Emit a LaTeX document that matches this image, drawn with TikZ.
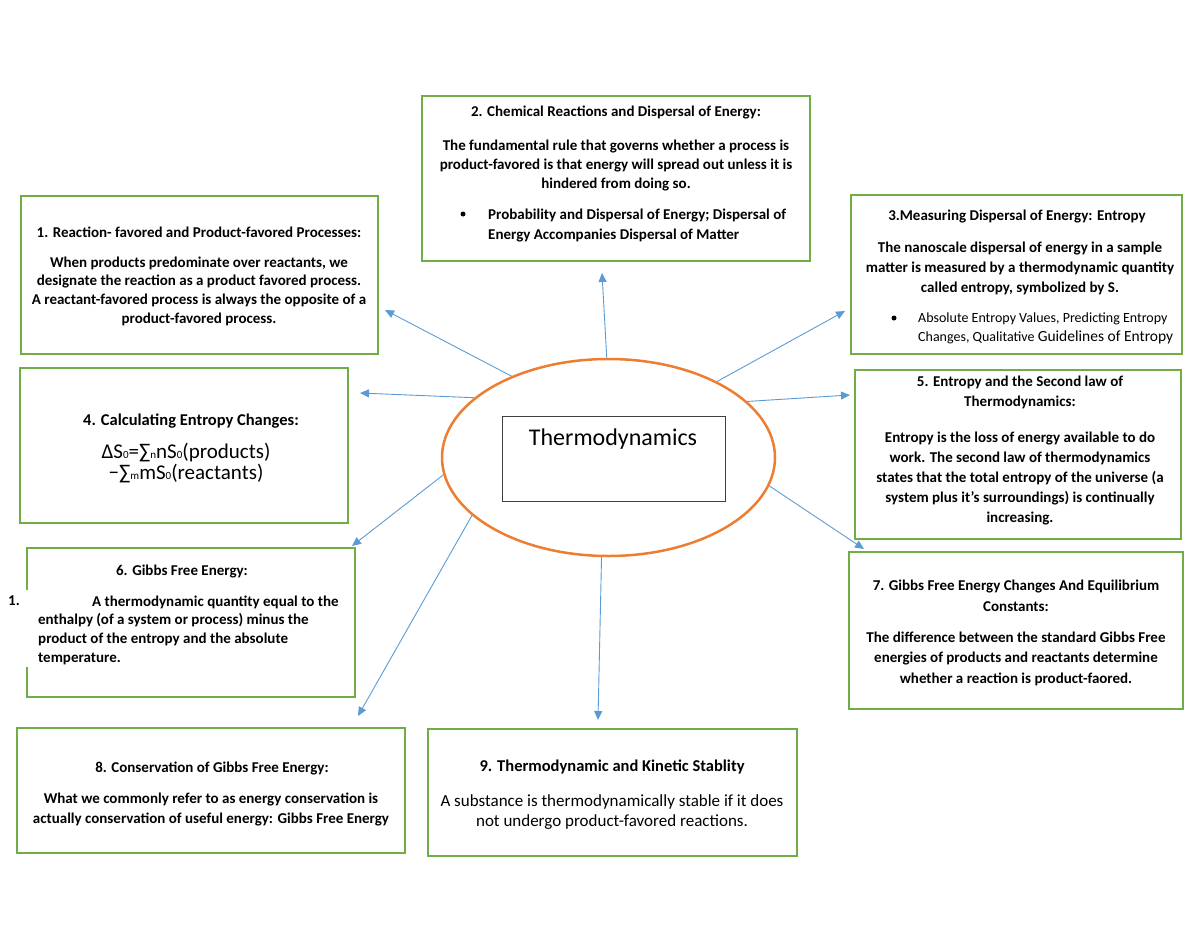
\documentclass[tikz,border=0pt]{standalone}
\usepackage{fontspec}
\setmainfont{Carlito}
\usetikzlibrary{shapes.geometric,arrows.meta}
\definecolor{boxgreen}{HTML}{70AD47}
\definecolor{ellorange}{HTML}{ED7D31}
\definecolor{arrblue}{HTML}{5B9BD5}
\newcommand\myfs[2]{\fontsize{#1}{#2}\selectfont}
\newcommand\smallidx[1]{{\fontsize{11}{11}\selectfont #1}}
\begin{document}
\begin{tikzpicture}[x=1pt,y=-1pt,
  box/.style={draw=boxgreen, line width=1.8pt, inner sep=0},
  tb/.style={inner sep=0, align=center, anchor=north},
  tl/.style={inner sep=0, align=left, anchor=north west},
  link/.style={draw=arrblue, line width=0.9pt, -{Triangle[length=9pt,width=8pt]}},
  dot/.style={circle, fill=black, inner sep=0, minimum size=5pt}]
\useasboundingbox (0,0) rectangle (1200,927);
% boxes
\node[box, minimum width=388pt, minimum height=165pt] (b2) at (616,178.5) {};
\node[box, minimum width=357pt, minimum height=158pt] (b1) at (199.5,275) {};
\node[box, minimum width=331pt, minimum height=159pt] (b3) at (1016.5,274.5) {};
\node[box, minimum width=328pt, minimum height=155pt] (b4) at (184,445.5) {};
\node[box, minimum width=326pt, minimum height=169pt] (b5) at (1018,454.5) {};
\node[inner sep=0, minimum width=328pt, minimum height=149pt] (b6) at (191,622.5) {};
\draw[draw=boxgreen, line width=1.8pt] ([yshift=-42pt]b6.north west) -- (b6.north west) -- (b6.north east) -- (b6.south east) -- (b6.south west) -- ([yshift=30pt]b6.south west);
\node[box, minimum width=334pt, minimum height=157pt] (b7) at (1016,630.5) {};
\node[box, minimum width=388pt, minimum height=125pt] (b8) at (211,790.5) {};
\node[box, minimum width=369pt, minimum height=127pt] (b9) at (612.5,792.5) {};
% centre
\node[ellipse, draw=ellorange, line width=2.5pt, minimum width=333pt, minimum height=197pt, inner sep=0] (ell) at (608.5,457.5) {};
\node[draw=black!75, line width=0.8pt, minimum width=223pt, minimum height=85pt, inner sep=0] (tr) at (613.5,458.5) {};
\node[inner sep=0, font=\myfs{24}{28}] (title) at (613,439) {Thermodynamics};
% box 2
\node[tb, font=\myfs{15}{18.7}\bfseries] (h2) at (616,102.9) {\strut 2. Chemical Reactions and Dispersal of Energy:};
\node[tb, font=\myfs{15}{19}\bfseries] (t2b) at (616,136.6) {\strut The fundamental rule that governs whether a process is\\ product-favored is that energy will spread out unless it is\\ hindered from doing so.};
\node[dot] (d2) at (463,214) {};
\node[tl, font=\myfs{15}{20}\bfseries] (t2c) at (488,205) {\strut Probability and Dispersal of Energy; Dispersal of\\ Energy Accompanies Dispersal of Matter};
% box 1
\node[tb, font=\myfs{15}{18.7}\bfseries] (h1) at (199,223.9) {\strut 1. Reaction- favored and Product-favored Processes:};
\node[tb, font=\myfs{15}{18.7}\bfseries] (t1b) at (199,253.9) {\strut When products predominate over reactants, we\\ designate the reaction as a product favored process.\\ A reactant-favored process is always the opposite of a\\ product-favored process.};
% box 3
\node[tb, font=\myfs{15}{18.7}\bfseries] (h3) at (1017,206.9) {\strut 3.Measuring Dispersal of Energy: Entropy};
\node[tb, font=\myfs{15}{20}\bfseries] (t3b) at (1020,238) {\strut The nanoscale dispersal of energy in a sample\\ matter is measured by a thermodynamic quantity\\ called entropy, symbolized by S.};
\node[dot] (d3) at (894,318) {};
\node[tl, font=\myfs{14}{19}] (t3c) at (918,309.3) {\strut Absolute Entropy Values, Predicting Entropy\\ Changes, Qualitative {\myfs{15.5}{19}Guidelines of Entropy}};
% box 4
\node[tb, font=\myfs{16.5}{20}\bfseries] (h4) at (191,411.4) {\strut 4. Calculating Entropy Changes:};
\node[inner sep=0, anchor=base, font=\myfs{21}{22}] (t4a) at (186,458) {ΔS\smallidx{0}=∑\smallidx{n}nS\smallidx{0}(products)};
\node[inner sep=0, anchor=base, font=\myfs{21}{22}] (t4b) at (186,479) {−∑\smallidx{m}mS\smallidx{0}(reactants)};
% box 5
\node[tb, font=\myfs{15}{20}\bfseries] (h5) at (1020,372) {\strut 5. Entropy and the Second law of\\ Thermodynamics:};
\node[tb, font=\myfs{15}{20}\bfseries] (t5b) at (1020,428) {\strut Entropy is the loss of energy available to do\\ work. The second law of thermodynamics\\ states that the total entropy of the universe (a\\ system plus it’s surroundings) is continually\\ increasing.};
% box 6
\node[tb, font=\myfs{15}{18.7}\bfseries] (h6) at (182,561.9) {\strut 6. Gibbs Free Energy:};
\node[inner sep=0, font=\myfs{15}{18.7}\bfseries] (n6) at (14,601) {1.};
\node[tl, font=\myfs{15}{18.7}\bfseries] (t6b) at (38,592.9) {\strut\hspace*{54pt}A thermodynamic quantity equal to the\\ enthalpy (of a system or process) minus the\\ product of the entropy and the absolute\\ temperature.};
% box 7
\node[tb, font=\myfs{15}{21}\bfseries] (h7) at (1016,575.3) {\strut 7. Gibbs Free Energy Changes And Equilibrium\\ Constants:};
\node[tb, font=\myfs{15}{20.5}\bfseries] (t7b) at (1016,627.6) {\strut The difference between the standard Gibbs Free\\ energies of products and reactants determine\\ whether a reaction is product-faored.};
% box 8
\node[tb, font=\myfs{15}{18.7}\bfseries] (h8) at (212,758.9) {\strut 8. Conservation of Gibbs Free Energy:};
\node[tb, font=\myfs{15}{20}\bfseries] (t8b) at (211,789) {\strut What we commonly refer to as energy conservation is\\ actually conservation of useful energy: Gibbs Free Energy};
% box 9
\node[tb, font=\myfs{16.5}{20}\bfseries] (h9) at (612,757.4) {\strut 9. Thermodynamic and Kinetic Stablity};
\node[tb, font=\myfs{17}{20}] (t9b) at (612,792.6) {\strut A substance is thermodynamically stable if it does\\ not undergo product-favored reactions.};
% arrow tips
\coordinate (a2) at (602,273);
\coordinate (a1) at (385,310);
\coordinate (a3) at (845,311);
\coordinate (a4) at (360,393);
\coordinate (a5) at (850,395);
\coordinate (a6) at (352,546);
\coordinate (a7) at (864,549);
\coordinate (a8) at (358,716);
\coordinate (a9) at (598,720);
\draw[link] (ell.91) -- (a2);
\draw[link] (ell.140) -- (a1);
\draw[link] (ell.35) -- (a3);
\draw[link] (ell.156) -- (a4);
\draw[link] (ell.22) -- (a5);
\draw[link] (ell.186) -- (a6);
\draw[link] (ell.350) -- (a7);
\draw[link] (ell.203) -- (a8);
\draw[link] (ell.266) -- (a9);
\end{tikzpicture}
\end{document}
